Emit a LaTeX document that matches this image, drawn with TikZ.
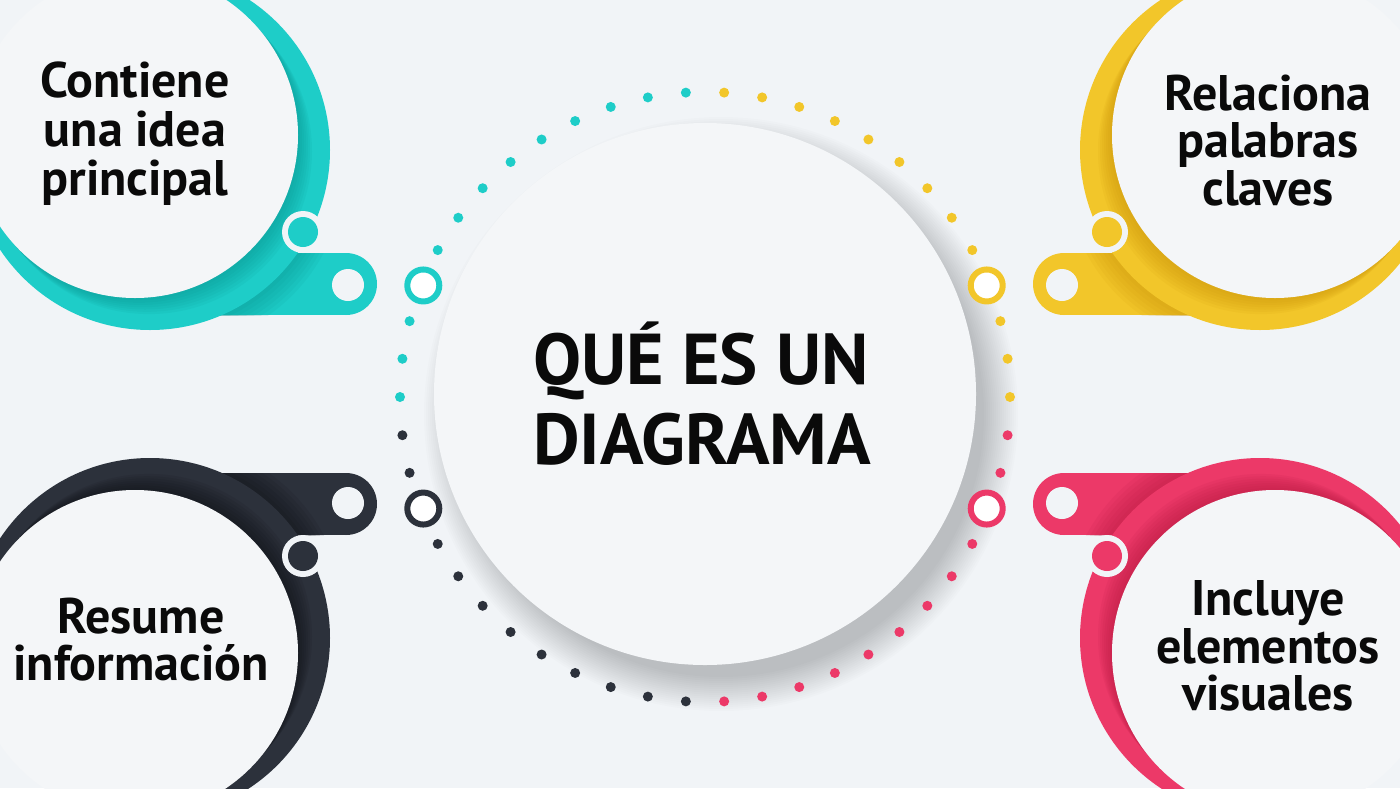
\documentclass[tikz,border=0pt]{standalone}
\usepackage{fontspec}
\setmainfont{PT Sans}
\definecolor{bg}{RGB}{241,244,247}
\definecolor{cy}{RGB}{30,205,200}
\definecolor{cyd}{RGB}{10,150,146}
\definecolor{yl}{RGB}{242,198,42}
\definecolor{yld}{RGB}{205,150,10}
\definecolor{pk}{RGB}{236,57,104}
\definecolor{pkd}{RGB}{185,25,66}
\definecolor{dk}{RGB}{44,49,59}
\definecolor{dkd}{RGB}{15,17,22}
\definecolor{wh}{RGB}{244,246,248}
\definecolor{txt}{RGB}{10,10,10}
\newcommand\satshape[2]{%
  \fill[#1] (150,253) rectangle (346,315);
  \fill[#1] (346,284) circle (31);
  \begin{scope}
    \clip (150,253) rectangle (377,315);
    \foreach \s in {0,...,6}{
      \fill[#2, opacity=0.1] ({150+2.5*\s},{150+3*\s}) circle (180);
    }
  \end{scope}
  \fill[#1] (150,150) circle (180);
  \begin{scope}
    \clip (150,150) circle (180);
    \foreach \s in {0,...,7}{
      \fill[#2, opacity=0.1] ({135+2*\s},{135+2.3*\s}) circle (163);
    }
  \end{scope}
  \fill[wh] (135,135) circle (163);
  \fill[bg] (348,285) circle (16);
  \fill[bg] (303,232) circle (21);
  \fill[#1] (303,232) circle (15);
}
\tikzset{
  sat/.style={font=\fontsize{50}{50}\selectfont\bfseries, text=txt, anchor=base, inner sep=0pt},
  ttl/.style={font=\fontsize{72}{72}\selectfont\bfseries, text=txt, anchor=base, inner sep=0pt},
  dotmark/.style={fill=#1},
  openmark/.style={draw=#1, fill=white, line width=6pt}
}
\begin{document}
\begin{tikzpicture}[x=1pt,y=-1pt]
\useasboundingbox (0,0) rectangle (1400,788);
\clip (0,0) rectangle (1400,788);
\fill[bg] (0,0) rectangle (1400,788);
% satellites
\satshape{cy}{cyd}
\begin{scope}[xshift=1410pt,xscale=-1]
  \satshape{yl}{yld}
\end{scope}
\begin{scope}[yshift=-788pt,yscale=-1]
  \satshape{dk}{dkd}
\end{scope}
\begin{scope}[xshift=1410pt,yshift=-788pt,xscale=-1,yscale=-1]
  \satshape{pk}{pkd}
\end{scope}
% central shadow
\foreach \j in {1,...,18}{
  \fill[black,opacity=0.013] (721,414) circle ({261+2*\j});
}
\fill[wh] (705,394) circle (271);
% dot ring
\foreach \k in {0,...,49}{
  \pgfmathsetmacro\ang{93.6+7.2*\k}
  \ifnum\k<13 \def\col{cy}\else\ifnum\k<25 \def\col{dk}\else\ifnum\k<37 \def\col{pk}\else\def\col{yl}\fi\fi\fi
  \pgfmathtruncatemacro\isopen{or(or(\k==9,\k==15),or(\k==34,\k==40))}
  \ifnum\isopen=1
    \path[openmark=\col] ({705+303*cos(\ang)},{397-303*sin(\ang)}) circle (16);
  \else
    \path[dotmark=\col] ({705+305*cos(\ang)},{397-305*sin(\ang)}) circle (5);
  \fi
}
% texts
\node[sat] (tla) at (135,97) {Contiene};
\node[sat] (tlb) at (135,146) {una idea};
\node[sat] (tlc) at (135,195) {principal};
\node[sat] (tra) at (1268,110) {Relaciona};
\node[sat] (trb) at (1268,157) {palabras};
\node[sat] (trc) at (1268,205) {claves};
\node[sat] (bla) at (141,633) {Resume};
\node[sat] (blb) at (141,680) {información};
\node[sat] (bra) at (1268,615) {Incluye};
\node[sat] (brb) at (1268,663) {elementos};
\node[sat] (brc) at (1268,710) {visuales};
\node[ttl] (ca) at (701,384) {QUÉ ES UN};
\node[ttl] (cb) at (702,464) {DIAGRAMA};
\end{tikzpicture}
\end{document}
